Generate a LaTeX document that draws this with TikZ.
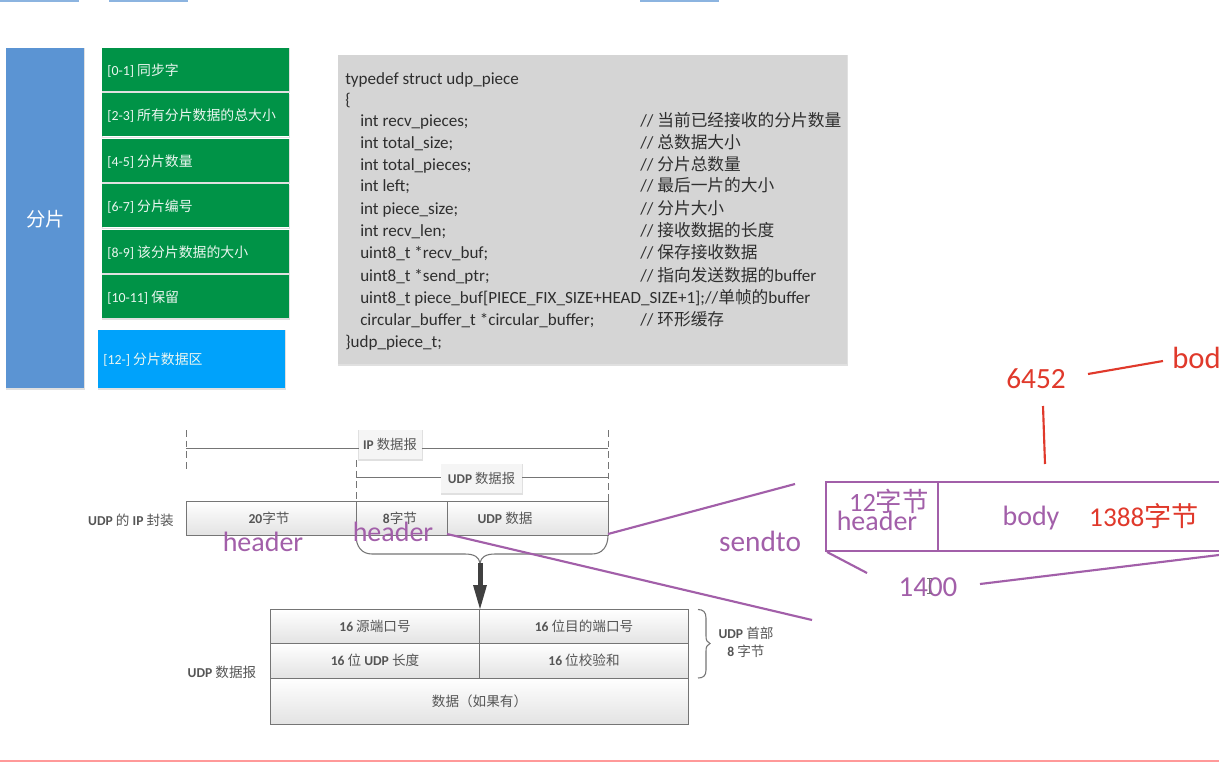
\documentclass[tikz,border=0pt]{standalone}
\usepackage{fontspec}
\setmainfont{Carlito}
\newfontfamily\cjkf{Noto Sans CJK SC}
\newfontfamily\cjkc[Scale=0.98]{Noto Sans CJK SC}
\newcommand{\zh}[1]{{\cjkf\mdseries #1}}
\newcommand{\zc}[1]{{\cjkc #1}}
\newcommand{\fs}[1]{\fontsize{#1}{#1}\selectfont}
\definecolor{pfill}{HTML}{5B94D3}
\definecolor{gfill}{HTML}{009347}
\definecolor{bfill}{HTML}{00A2FB}
\definecolor{greyfill}{HTML}{D5D5D5}
\definecolor{purp}{HTML}{A25FA9}
\definecolor{redm}{HTML}{E0392B}
\definecolor{ink}{HTML}{555555}
\definecolor{frame}{HTML}{757575}
\tikzset{
  x=0.75pt,y=-0.75pt,
  pxbox/.style 2 args={minimum width=#1*0.75pt,minimum height=#2*0.75pt,inner sep=0pt,outer sep=0pt,anchor=north west},
  softshadow/.style={preaction={draw=black!12,line width=1.2pt,transform canvas={xshift=0.5pt,yshift=-0.8pt}}},
  greenbox/.style 2 args={pxbox={#1}{#2},fill=gfill,softshadow,text=white!92!gfill},
  boxtext/.style={anchor=west,inner sep=0pt,text=white!92!gfill,font=\fs{10.4}},
  codeline/.style={anchor=base west,inner sep=0pt,font=\fs{12.8},text=black!82},
  celltext/.style={font=\fs{10.2}\bfseries,text=ink,inner sep=0pt},
  sidetext/.style={font=\fs{10.2}\bfseries,text=ink,inner sep=0pt},
  cell/.style 2 args={pxbox={#1}{#2},draw=frame,line width=0.7pt,top color=white,bottom color=black!11},
  dimline/.style={draw=frame,line width=0.7pt},
  dimdash/.style={draw=frame,line width=0.7pt,dash pattern=on 5pt off 3pt},
  tag/.style={fill=black!4,inner sep=0pt,font=\fs{10}\bfseries,text=ink},
  pline/.style={draw=purp,line width=1.6pt},
  rline/.style={draw=redm,line width=1.6pt},
  ptext/.style={text=purp,inner sep=0pt},
  rtext/.style={text=redm,inner sep=0pt},
}
\begin{document}
\begin{tikzpicture}
\useasboundingbox (0,0) rectangle (1219,762);
\fill[white] (0,0) rectangle (1219,762);
% top stubs
\fill[pfill!70!white] (0,0) rectangle (79,2);
\fill[pfill!70!white] (109,0) rectangle (188,2);
\fill[pfill!70!white] (640,0) rectangle (719,2);
% left column
\node[pxbox={78}{340},fill=pfill,softshadow] (piece) at (6,48) {};
\node[inner sep=0pt,text=white,font=\fs{14.5}] (piecet) at (45.5,219) {\zh{分片}};
\node[greenbox={187}{43}] (g1) at (102,48) {};
\node[greenbox={187}{43}] (g2) at (102,93.5) {};
\node[greenbox={187}{43}] (g3) at (102,139) {};
\node[greenbox={187}{43}] (g4) at (102,184.5) {};
\node[greenbox={187}{43}] (g5) at (102,230) {};
\node[greenbox={187}{43}] (g6) at (102,275) {};
\node[greenbox={187}{58},fill=bfill] (g7) at (98,330) {};
\node[boxtext] (g1t) at (107,71) {[0-1] \zh{同步字}};
\node[boxtext] (g2t) at (107,116) {[2-3] \zh{所有分片数据的总大小}};
\node[boxtext] (g3t) at (107,161.5) {[4-5] \zh{分片数量}};
\node[boxtext] (g4t) at (107,207) {[6-7] \zh{分片编号}};
\node[boxtext] (g5t) at (107,252.5) {[8-9] \zh{该分片数据的大小}};
\node[boxtext] (g6t) at (107,298) {[10-11] \zh{保留}};
\node[boxtext] (g7t) at (103,360) {[12-] \zh{分片数据区}};
% struct box
\node[pxbox={509}{309},fill=greyfill,softshadow] (code) at (338,55) {};
\node[codeline] (c0) at (345,85) {typedef struct udp\_piece};
\node[codeline] (c1) at (345,106) {\{};
\foreach \n/\yy/\txt/\cmt in {
 a/127/int recv\_pieces;/当前已经接收的分片数量,
 b/149/int total\_size;/总数据大小,
 c/171/int total\_pieces;/分片总数量,
 d/192/int left;/最后一片的大小,
 e/215/int piece\_size;/分片大小,
 f/237/int recv\_len;/接收数据的长度,
 g/259/uint8\_t *recv\_buf;/保存接收数据,
 h/282/uint8\_t *send\_ptr;/指向发送数据的\normalfont buffer,
 j/326/circular\_buffer\_t *circular\_buffer;/环形缓存}{
  \node[codeline] (l\n) at (360,\yy) {\txt};
  \node[codeline] (r\n) at (640,\yy) {// \zc{\cmt}};
}
\node[codeline] (li) at (360,304) {uint8\_t piece\_buf[PIECE\_FIX\_SIZE+HEAD\_SIZE+1];//\zc{单帧的}buffer};
\node[codeline] (c2) at (345,348) {\}udp\_piece\_t;};
% IP encapsulation row
\node[cell={170}{34}] (ip20) at (186,501) {};
\node[cell={91.5}{34}] (u8) at (356,501) {};
\node[cell={160.5}{34}] (ud) at (447.5,501) {};
\node[celltext] at (269,518) {20\zh{字节}};
\node[celltext] at (400,518) {8\zh{字节}};
\node[celltext] at (505,518) {UDP \zh{数据}};
\node[sidetext] at (131,520) {UDP \zh{的} IP \zh{封装}};
% dimension lines
\coordinate (dl1) at (186,430); \coordinate (dl2) at (186,472);
\coordinate (dm1) at (356,460); \coordinate (dm2) at (356,501);
\coordinate (dr1) at (608,430); \coordinate (dr2) at (608,501);
\draw[dimdash] (dl1) -- (dl2);
\draw[dimdash] (dm1) -- (dm2);
\draw[dimdash] (dr1) -- (dr2);
\node[pxbox={63}{29},tag,softshadow] (iptag) at (358.5,430) {IP \zh{数据报}};
\node[pxbox={81}{29},tag,softshadow] (udptag) at (441,464) {UDP \zh{数据报}};
\coordinate (ya) at (0,448.5); \coordinate (yb) at (0,477);
\draw[dimline] (dl1 |- ya) -- (iptag.west |- ya);
\draw[dimline] (iptag.east |- ya) -- (dr1 |- ya);
\draw[dimline] (dm1 |- yb) -- (udptag.west |- yb);
\draw[dimline] (udptag.east |- yb) -- (dr1 |- yb);
% brace
\draw[dimline,line width=0.8pt] (356,535) .. controls (356,547) and (362,554) .. (372,554) -- (465,554) .. controls (474,554) and (479,557) .. (480,563);
\draw[dimline,line width=0.8pt] (608,535) .. controls (608,547) and (602,554) .. (592,554) -- (495,554) .. controls (486,554) and (481,557) .. (480,563);
% UDP header table
\node[cell={209}{34}] (t1) at (270.5,609.5) {};
\node[cell={209}{34}] (t2) at (479.5,609.5) {};
\node[cell={209}{34.5}] (t3) at (270.5,643.5) {};
\node[cell={209}{34.5}] (t4) at (479.5,643.5) {};
\node[cell={418}{46}] (t5) at (270.5,678) {};
\node[celltext] at (t1) {16 \zh{源端口号}};
\node[celltext] at (t2) {16 \zh{位目的端口号}};
\node[celltext] at (t3) {16 \zh{位} UDP \zh{长度}};
\node[celltext] at (t4) {16 \zh{位校验和}};
\node[celltext] at (t5) {\zh{数据（如果有）}};
\node[sidetext] at (222,672) {UDP \zh{数据报}};
\node[sidetext] at (746,633) {UDP \zh{首部}};
\node[sidetext] at (746,651) {8 \zh{字节}};
\draw[dimline,line width=0.8pt] (698,609.5) .. controls (703,609.5) and (706,612) .. (706,618) -- (706,636) .. controls (706,640) and (707,642.5) .. (710,643.5) .. controls (707,644.5) and (706,647) .. (706,651) -- (706,670) .. controls (706,676) and (703,678) .. (698,678);
% thick arrow
\fill[black!75] (477.5,563) rectangle (482.5,587);
\fill[black!75] (473,585) -- (487,585) -- (480,609) -- cycle;
% purple overlay
\node[ptext,font=\fs{21}] (h1) at (263,542) {header};
\node[ptext,font=\fs{21}] (h2) at (393,532) {header};
\node[ptext,font=\fs{22}] (st) at (760,541) {sendto};
\coordinate (a1) at (608,534); \coordinate (a2) at (795,484);
\coordinate (b1) at (447,534); \coordinate (b2) at (812,620);
\draw[pline] (a1) -- (a2);
\draw[pline] (b1) -- (b2);
\node[pxbox={112}{69},pline] (hd) at (826,482) {};
\node[pxbox={300}{69},pline] (bd) at (938,482) {};
\node[ptext,font=\fs{19.8}] at (889,501) {12\zh{字节}};
\node[ptext,font=\fs{21}] at (877,521) {header};
\node[ptext,font=\fs{21}] at (1031,518) {body};
\node[rtext,font=\fs{20.4}] at (1144,516) {1388\zh{字节}};
\node[ptext,font=\fs{21.7}] (sz) at (928,587) {1400};
\coordinate (c1a) at (827,552); \coordinate (c1b) at (867,573);
\coordinate (c2a) at (980,584); \coordinate (c2b) at (1219,555);
\draw[pline] (c1a) -- (c1b);
\draw[pline] (c2a) -- (c2b);
% mouse cursor
\draw[black!55,line width=0.6pt] (927,578) -- (932,578) (929.5,578) -- (929.5,593) (927,593) -- (932,593);
% red notes
\node[rtext,font=\fs{22}] (n) at (1036,379) {6452};
\node[rtext,font=\fs{23},anchor=west] (bb) at (1172,358) {bod};
\coordinate (r1) at (1088,374); \coordinate (r2) at (1163,361);
\coordinate (r3) at (1043,406); \coordinate (r4) at (1045,464);
\draw[rline] (r1) -- (r2);
\draw[rline] (r3) -- (r4);
% bottom edge
\fill[red!40!white] (0,760) rectangle (1219,762);
\end{tikzpicture}
\end{document}
